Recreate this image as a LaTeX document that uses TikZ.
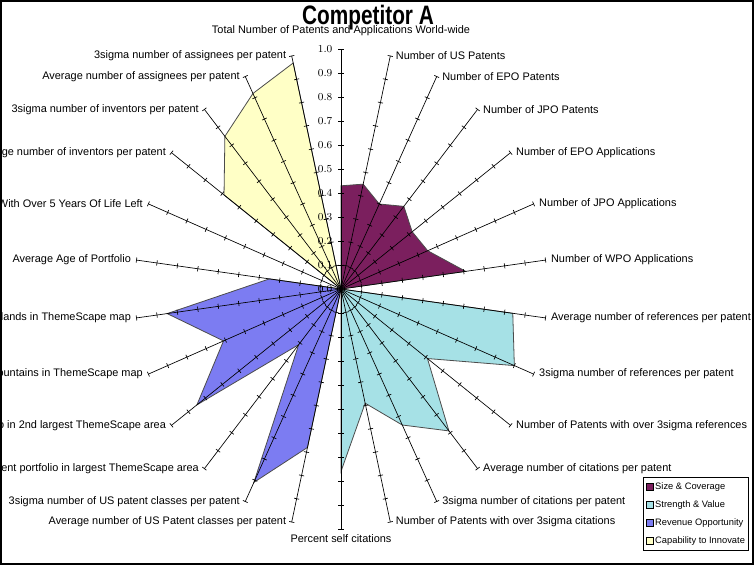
\documentclass[tikz,border=0pt]{standalone}
\usepackage{fontspec}
\setmainfont{Liberation Sans}
\definecolor{sizecol}{HTML}{7B1F5E}
\definecolor{strengthcol}{HTML}{A6E1E6}
\definecolor{revenuecol}{HTML}{7C7CF2}
\definecolor{capabilitycol}{HTML}{FFFFC6}
\tikzset{
  series/.style={draw=black!70, line width=0.6pt},
  axisline/.style={draw=black, line width=0.5pt},
  axislabel/.style={font=\fontsize{8.2}{9}\selectfont, inner sep=4pt},
  ticklabel/.style={font=\fontsize{7.8}{9}\selectfont, inner sep=1pt, anchor=east},
  legendbox/.style={draw=black, line width=0.5pt, fill=white},
  legendkey/.style={draw=black, line width=0.4pt, minimum size=5pt, inner sep=0pt},
  legendtext/.style={font=\fontsize{7}{8}\selectfont, anchor=west, inner sep=1pt}
}
\def\cx{341}\def\cy{289}\def\rx{206}\def\ry{240}
\begin{document}
\begin{tikzpicture}[x=0.75pt,y=-0.75pt]
  \useasboundingbox (0,0) rectangle (754,565);
  \clip (0,0) rectangle (754,565);
  \fill[white] (0,0) rectangle (754,565);
  \coordinate (c) at (\cx,\cy);
  % series
  \fill[series, fill=sizecol] (c)
    \foreach \v [count=\i from 0] in {0.43,0.45,0.40,0.46,0.42,0.45,0.61}
      { -- ({\cx+\rx*\v*sin(\i*360/26)},{\cy-\ry*\v*cos(\i*360/26)}) } -- cycle;
  \fill[series, fill=strengthcol] (c)
    \foreach \v [count=\i from 7] in {0.84,0.90,0.51,0.79,0.64,0.49,0.76}
      { -- ({\cx+\rx*\v*sin(\i*360/26)},{\cy-\ry*\v*cos(\i*360/26)}) } -- cycle;
  \fill[series, fill=revenuecol] (c)
    \foreach \v [count=\i from 14] in {0.68,0.91,0.31,0.85,0.61,0.85,0.35}
      { -- ({\cx+\rx*\v*sin(\i*360/26)},{\cy-\ry*\v*cos(\i*360/26)}) } -- cycle;
  \fill[series, fill=capabilitycol] (c)
    \foreach \v [count=\i from 22] in {0.69,0.85,0.92,0.97}
      { -- ({\cx+\rx*\v*sin(\i*360/26)},{\cy-\ry*\v*cos(\i*360/26)}) } -- cycle;
  % axes with ticks and labels
  \foreach \t [count=\k from 0] in {
      Total Number of Patents and Applications World-wide,
      Number of US Patents, Number of EPO Patents, Number of JPO Patents,
      Number of EPO Applications, Number of JPO Applications,
      Number of WPO Applications, Average number of references per patent,
      3sigma number of references per patent,
      Number of Patents with over 3sigma references,
      Average number of citations per patent,
      3sigma number of citations per patent,
      Number of Patents with over 3sigma citations, Percent self citations,
      Average number of US Patent classes per patent,
      3sigma number of US patent classes per patent,
      Percent portfolio in largest ThemeScape area,
      Percent portfolio in 2nd largest ThemeScape area,
      Number of separate mountains in ThemeScape map,
      Number of small islands in ThemeScape map, Average Age of Portfolio,
      Percent of Portfolio With Over 5 Years Of Life Left,
      Average number of inventors per patent,
      3sigma number of inventors per patent,
      Average number of assignees per patent,
      3sigma number of assignees per patent} {
    \pgfmathsetmacro\th{\k*360/26}
    \pgfmathsetmacro\len{100*sqrt((\rx/100*sin(\th))^2+(\ry/100*cos(\th))^2)}
    \pgfmathsetmacro\px{2.6*\ry*cos(\th)/\len}
    \pgfmathsetmacro\py{2.6*\rx*sin(\th)/\len}
    \coordinate (e\k) at ({\cx+\rx*sin(\th)},{\cy-\ry*cos(\th)});
    \draw[axisline] (c) -- (e\k);
    \foreach \j in {1,...,10}
      \draw[axisline] ({\cx+\rx*\j/10*sin(\th)+\px},{\cy-\ry*\j/10*cos(\th)+\py})
        -- ({\cx+\rx*\j/10*sin(\th)-\px},{\cy-\ry*\j/10*cos(\th)-\py});
    \ifnum\k=0
      \node[axislabel, anchor=south, yshift=6pt] (l\k) at (e\k) {\t};
    \else\ifnum\k=13
      \node[axislabel, anchor=north] (l\k) at (e\k) {\t};
    \else\ifnum\k<13
      \node[axislabel, anchor=west] (l\k) at (e\k) {\t};
    \else
      \node[axislabel, anchor=east] (l\k) at (e\k) {\t};
    \fi\fi\fi
  }
  % scale labels
  \foreach \j in {0,...,10}
    \node[ticklabel] (s\j) at (334,{\cy-\ry*\j/10}) {\pgfmathparse{\j/10}\pgfmathprintnumber[fixed,precision=1,fixed zerofill]{\pgfmathresult}};
  % title
  \node[font=\bfseries\fontsize{20}{22}\selectfont] (title) at (368,18) {\scalebox{0.78}[1]{Competitor A}};
  % legend
  \draw[legendbox] (643,477) rectangle (748,550);
  \node[legendkey, fill=sizecol] (k1) at (650,487) {};
  \node[legendtext] (t1) at (k1.east) {Size \& Coverage};
  \node[legendkey, fill=strengthcol] (k2) at (650,505) {};
  \node[legendtext] (t2) at (k2.east) {Strength \& Value};
  \node[legendkey, fill=revenuecol] (k3) at (650,523) {};
  \node[legendtext] (t3) at (k3.east) {Revenue Opportunity};
  \node[legendkey, fill=capabilitycol] (k4) at (650,541) {};
  \node[legendtext] (t4) at (k4.east) {Capability to Innovate};
  % frame
  \draw[line width=2pt] (1,1) rectangle (753,564);
\end{tikzpicture}
\end{document}
